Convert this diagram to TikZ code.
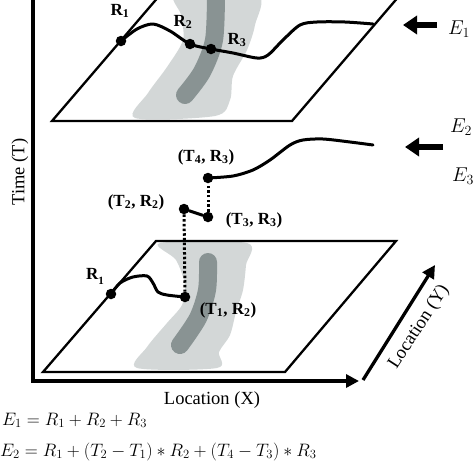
\RequirePackage{fix-cm}
\documentclass[tikz,border=0pt]{standalone}
\usepackage{fontspec}
\setmainfont{Liberation Serif}
\usepackage{tikz}
\usetikzlibrary{arrows.meta}
\definecolor{blobLight}{RGB}{211,215,215}
\definecolor{blobDark}{RGB}{137,147,147}
\tikzset{dot/.style={circle,fill=black,inner sep=0pt,minimum size=10.5pt}}
\tikzset{track/.style={line width=3pt,line cap=round,line join=round}}
\tikzset{plane/.style={line width=2.3pt,line join=miter}}
\tikzset{tag/.style={font=\fontsize{17}{17}\selectfont\bfseries,inner sep=0pt}}
\tikzset{axis/.style={line width=3.3pt,-{Triangle[length=13pt,width=13pt]}}}
\tikzset{link/.style={line width=3pt,dash pattern=on 2.5pt off 2.2pt}}
\tikzset{pointer/.style={line width=5.5pt,-{Triangle[length=14pt,width=18pt]}}}
\tikzset{caption/.style={font=\fontsize{18.5}{18.5}\selectfont,inner sep=0pt}}
\tikzset{formula/.style={font=\fontsize{18}{18}\selectfont,inner sep=0pt}}

\begin{document}
\begin{tikzpicture}[x=1pt,y=-1pt]
    \useasboundingbox (0,0) rectangle (474,474);
    \clip (0,0) rectangle (474,474);
    \fill[blobLight] plot[smooth cycle] coordinates {(177,-6) (257,-6) (255,25) (247,50) (233,76) (230,100) (215,116) (135,118) (148,93) (167,67) (183,40) (181,15)};
    \draw[blobDark,line width=18pt,line cap=round] plot[smooth] coordinates {(216,-6) (214,40) (202,72) (185,95)};
    \fill[blobLight] plot[smooth cycle] coordinates {(160,243) (247,243) (246,265) (243,290) (236,312) (230,335) (219,352) (217,368) (137,368) (147,347) (167,323) (182,305) (185,285) (176,260)};
    \draw[blobDark,line width=18pt,line cap=round] plot[smooth] coordinates {(208,262) (207,290) (198,318) (180,345)};
    \draw[plane] (52,121) -- (166,-12) -- (406,-12) -- (292,121) -- cycle;
    \draw[plane] (43,372) -- (156,241) -- (396,241) -- (285,372) -- cycle;
    \coordinate (top) at (33,-5);
    \coordinate (origin) at (33,381);
    \coordinate (xend) at (359,381);
    \coordinate (ystart) at (363,380);
    \coordinate (yend) at (435,265);
    \draw[axis] (top) -- (origin) -- (xend);
    \draw[axis] (ystart) -- (yend);
    \node[caption,rotate=90] (tlabel) at (20,172) {Time (T)};
    \node[caption] (xlabel) at (212,400) {Location (X)};
    \node[caption,rotate=57] (ylabel) at (419,327) {Location (Y)};
    \node[dot] (r1) at (121,41) {};
    \node[dot] (r2) at (190,44) {};
    \node[dot] (r3) at (211,49) {};
    \coordinate (e1end) at (373,24);
    \draw[track] plot[smooth] coordinates {(r1) (137,29) (153,24) (170,31) (r2) (r3) (233,53) (257,58) (268,55) (283,40) (300,25) (317,22) (345,22) (e1end)};
    \node[tag] at (120,11) {R\textsubscript{1}};
    \node[tag] at (183,22) {R\textsubscript{2}};
    \node[tag] at (237,40) {R\textsubscript{3}};
    \node[dot] (t4r3) at (208,178) {};
    \node[dot] (t3r3) at (208,217) {};
    \node[dot] (t2r2) at (184,209) {};
    \node[dot] (t1r2) at (185,297) {};
    \node[dot] (r1b) at (111,294) {};
    \coordinate (e2end) at (373,145);
    \draw[track] plot[smooth] coordinates {(t4r3) (233,176) (253,170) (270,160) (290,145) (303,140) (323,139) (350,142) (e2end)};
    \draw[track] (t2r2) -- (t3r3);
    \draw[link] (t3r3) -- (t4r3);
    \draw[link] (t2r2) -- (t1r2);
    \draw[track] plot[smooth] coordinates {(r1b) (120,283) (133,277) (147,276) (153,283) (158,292) (167,295) (t1r2)};
    \node[tag] at (206,157) {(T\textsubscript{4}, R\textsubscript{3})};
    \node[tag] at (136,202) {(T\textsubscript{2}, R\textsubscript{2})};
    \node[tag] at (254,220) {(T\textsubscript{3}, R\textsubscript{3})};
    \node[tag] at (228,310) {(T\textsubscript{1}, R\textsubscript{2})};
    \node[tag] at (95,276) {R\raisebox{-5pt}{\fontsize{11}{11}\selectfont 1}};
    \coordinate (p1s) at (437,25);
    \coordinate (p1e) at (403,25);
    \coordinate (p2s) at (443,147);
    \coordinate (p2e) at (405,147);
    \draw[pointer] (p1s) -- (p1e);
    \draw[pointer] (p2s) -- (p2e);
    \node[formula,anchor=west,font=\fontsize{20}{20}\selectfont] (eone) at (448,29) {$E_1$};
    \node[formula,anchor=west,font=\fontsize{20}{20}\selectfont] (etwo) at (450,127) {$E_2$};
    \node[formula,anchor=west,font=\fontsize{20}{20}\selectfont] (ethree) at (452,176) {$E_3$};
    \node[formula,anchor=base west] (eqone) at (2,425) {$E_1 = R_1 + R_2 + R_3$};
    \node[formula,anchor=base west] (eqtwo) at (0,456) {$E_2 = R_1 + (T_2 - T_1) * R_2 + (T_4 - T_3) * R_3$};
\end{tikzpicture}
\end{document}
